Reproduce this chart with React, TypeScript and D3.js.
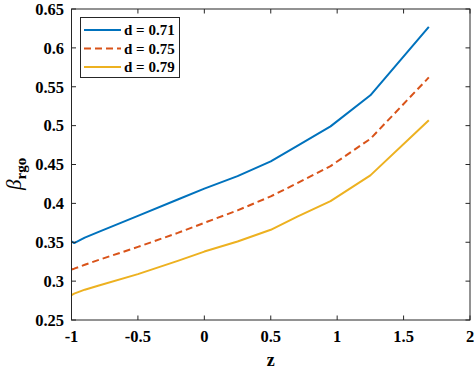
import React from "react";
import * as d3 from "d3";

const zValues = [-1, -0.98, -0.9, -0.8, -0.5, -0.2, 0, 0.25, 0.5, 0.7, 0.95, 1.25, 1.69];
const seriesD071 = [0.351, 0.349, 0.356, 0.363, 0.384, 0.405, 0.419, 0.435, 0.454, 0.474, 0.499, 0.539, 0.627];
const seriesD075 = [0.315, 0.316, 0.321, 0.327, 0.344, 0.362, 0.375, 0.391, 0.409, 0.426, 0.448, 0.483, 0.562];
const seriesD079 = [0.282, 0.284, 0.289, 0.294, 0.309, 0.326, 0.338, 0.351, 0.366, 0.383, 0.403, 0.436, 0.507];
const legendLabels = ["d = 0.71", "d = 0.75", "d = 0.79"];
const xTicks = [-1, -0.5, 0, 0.5, 1, 1.5, 2];
const yTicks = [0.25, 0.3, 0.35, 0.4, 0.45, 0.5, 0.55, 0.6, 0.65];

const W = 474;
const H = 370;
const left = 71.5;
const right = 470;
const top = 9;
const bottom = 320;

const colors = ["#0072BD", "#D95319", "#EDB120"];
const dashes = [undefined, "7,4", undefined];
const axisColor = "#262626";
const font = "'Liberation Serif', 'Times New Roman', serif";

export default function App() {
  const x = d3.scaleLinear().domain([-1, 2]).range([left, right]);
  const y = d3.scaleLinear().domain([0.25, 0.65]).range([bottom, top]);
  const series = [seriesD071, seriesD075, seriesD079];
  const line = d3
    .line<number>()
    .x((_, i) => x(zValues[i]))
    .y((v) => y(v));
  const tl = 4.5;
  return (
    <svg
      width={W}
      height={H}
      style={{ position: "absolute", left: 0, top: 0, background: "#fff" }}
      fontFamily={font}
    >
      <rect x={0} y={0} width={W} height={H} fill="#fff" />
      {series.map((s, i) => (
        <path
          key={i}
          d={line(s) || ""}
          fill="none"
          stroke={colors[i]}
          strokeWidth={2}
          strokeDasharray={dashes[i]}
          strokeLinejoin="round"
        />
      ))}
      <rect
        x={left}
        y={top}
        width={right - left}
        height={bottom - top}
        fill="none"
        stroke={axisColor}
        strokeWidth={1}
      />
      {xTicks.map((t) => (
        <g key={"x" + t}>
          <line x1={x(t)} x2={x(t)} y1={bottom} y2={bottom - tl} stroke={axisColor} />
          <line x1={x(t)} x2={x(t)} y1={top} y2={top + tl} stroke={axisColor} />
          <text
            x={x(t)}
            y={342}
            textAnchor="middle"
            fontSize={16.5}
            fontWeight="bold"
            fill="#000"
          >
            {String(t)}
          </text>
        </g>
      ))}
      {yTicks.map((t) => (
        <g key={"y" + t}>
          <line x1={left} x2={left + tl} y1={y(t)} y2={y(t)} stroke={axisColor} />
          <line x1={right} x2={right - tl} y1={y(t)} y2={y(t)} stroke={axisColor} />
          <text
            x={64}
            y={y(t)}
            dy="0.35em"
            textAnchor="end"
            fontSize={16.5}
            fontWeight="bold"
            fill="#000"
          >
            {String(t)}
          </text>
        </g>
      ))}
      <text x={(left + right) / 2} y={366} textAnchor="middle" fontSize={18} fontWeight="bold" fill="#000">
        z
      </text>
      <g transform="translate(21,190) rotate(-90)">
        <text x={0} y={0} fontSize={21} fill="#000">
          <tspan fontStyle="italic">β</tspan>
          <tspan fontSize={15} fontWeight="bold" dy={5}>rgo</tspan>
        </text>
      </g>
      <rect x={80.5} y={17.5} width={99} height={60} fill="#fff" stroke={axisColor} strokeWidth={1} />
      {legendLabels.map((lab, i) => {
        const ly = 30 + i * 18.5;
        return (
          <g key={lab}>
            <line
              x1={84}
              x2={121}
              y1={ly}
              y2={ly}
              stroke={colors[i]}
              strokeWidth={2}
              strokeDasharray={dashes[i]}
            />
            <text x={124} y={ly} dy="0.35em" fontSize={15} fontWeight="bold" fill="#000">
              {lab}
            </text>
          </g>
        );
      })}
    </svg>
  );
}
